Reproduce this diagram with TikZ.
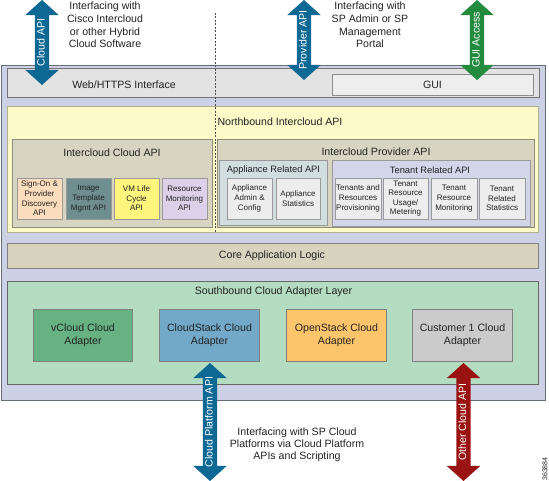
\documentclass[tikz,border=0pt]{standalone}
\usepackage{fontspec}
\setmainfont{Liberation Sans}
\usetikzlibrary{shapes.arrows}
\definecolor{outerfill}{HTML}{CCD1E5}
\definecolor{outerline}{HTML}{666D75}
\definecolor{webfill}{HTML}{E3E3E3}
\definecolor{guifill}{HTML}{EEEEEE}
\definecolor{yelfill}{HTML}{FCFAC8}
\definecolor{yelline}{HTML}{B4B28E}
\definecolor{icfill}{HTML}{D7D5C1}
\definecolor{icline}{HTML}{8E8D7C}
\definecolor{applfill}{HTML}{D2DDE0}
\definecolor{tenfill}{HTML}{D3D6E8}
\definecolor{smallfill}{HTML}{EDEDED}
\definecolor{signfill}{HTML}{FBDCBC}
\definecolor{imgfill}{HTML}{6F8E90}
\definecolor{vmfill}{HTML}{FDF57C}
\definecolor{resfill}{HTML}{DCD1E8}
\definecolor{corefill}{HTML}{D7D3BF}
\definecolor{southfill}{HTML}{B3DCC0}
\definecolor{vcfill}{HTML}{67B283}
\definecolor{csfill}{HTML}{72A9C8}
\definecolor{osfill}{HTML}{FDC56B}
\definecolor{cufill}{HTML}{CBCBCB}
\definecolor{arrblue}{HTML}{0D6894}
\definecolor{arrgreen}{HTML}{228B3E}
\definecolor{arrred}{HTML}{9B1212}
\definecolor{txtc}{HTML}{222222}
\begin{document}
\begin{tikzpicture}[x=1pt,y=-1pt,
  box/.style={rectangle, inner sep=0pt, outer sep=0pt, line width=0.8pt},
  txt/.style={text=txtc, font=\fontsize{10.6}{12.7}\selectfont, align=center, inner sep=0pt},
  mid/.style={text=txtc, font=\fontsize{9.3}{11}\selectfont, align=center, inner sep=0pt},
  sml/.style={text=txtc, font=\fontsize{8}{9.6}\selectfont, align=center, inner sep=0pt},
  smallbox/.style={box, draw=black!40, minimum width=45pt, minimum height=41pt},
  adapter/.style={box, draw=black!50, minimum width=99.5pt, minimum height=52pt, text=txtc, font=\fontsize{10.6}{13}\selectfont, align=center},
  arr/.style={double arrow, double arrow head extend=9.5pt, double arrow tip angle=96,
    inner xsep=0pt, inner ysep=2.1pt, text height=7.6pt, text depth=2.2pt,
    text=white, font=\fontsize{10.6}{12}\selectfont, rotate=90, outer sep=0pt}
]
\useasboundingbox (0,0) rectangle (549,481);

% outer container
\node[box, draw=outerline, fill=outerfill, minimum width=544pt, minimum height=335pt] (outer) at (273,232.5) {};
% web/https
\node[box, draw=black!55, fill=webfill, minimum width=532pt, minimum height=29pt] (web) at (273,82.5) {};
\node[txt] (webt) at (124,85) {Web/HTTPS Interface};
\node[box, draw=black!45, fill=guifill, minimum width=201pt, minimum height=21pt] (gui) at (432.5,84.5) {};
\node[txt] (guit) at (432.5,85) {GUI};

% northbound
\node[box, draw=yelline, fill=yelfill, minimum width=531pt, minimum height=126pt] (north) at (272.5,169) {};
\node[txt] (northt) at (280,122) {Northbound Intercloud API};

% intercloud cloud api
\node[box, draw=icline, fill=icfill, minimum width=200pt, minimum height=88pt] (icc) at (112,183) {};
\node[txt] (icct) at (112,153) {Intercloud Cloud API};
\node[smallbox, fill=signfill] (signon) at (39.5,198.5) {};
\node[sml] at (signon) {Sign-On \&\\Provider\\Discovery\\API};
\node[smallbox, fill=imgfill] (imgt) at (88.5,198.5) {};
\node[sml] at (imgt) {Image\\Template\\Mgmt API};
\node[smallbox, fill=vmfill] (vmlc) at (136.5,198.5) {};
\node[sml] at (vmlc) {VM Life\\Cycle\\API};
\node[smallbox, fill=resfill] (resmon) at (184.5,198.5) {};
\node[sml] at (resmon) {Resource\\Monitoring\\API};

% intercloud provider api
\node[box, draw=icline, fill=icfill, minimum width=317pt, minimum height=88pt] (icp) at (375.5,183) {};
\node[txt] (icpt) at (376,151.5) {Intercloud Provider API};
\node[box, draw=black!40, fill=applfill, minimum width=108pt, minimum height=65pt] (appl) at (273,192.5) {};
\node[mid] (applt) at (273.5,170) {Appliance Related API};
\node[smallbox, fill=smallfill] (appadm) at (249.5,198.5) {};
\node[sml] at (appadm) {Appliance\\Admin \&\\Config};
\node[smallbox, fill=smallfill, minimum width=44pt] (appstat) at (298,198.5) {};
\node[sml] at (appstat) {Appliance\\Statistics};
\node[box, draw=black!40, fill=tenfill, minimum width=198pt, minimum height=66pt] (tenant) at (431,193) {};
\node[mid] (tenantt) at (430,170) {Tenant Related API};
\node[smallbox, fill=smallfill, minimum width=46pt] (tprov) at (358,198.5) {};
\node[sml] at (tprov) {Tenants and\\Resources\\Provisioning};
\node[smallbox, fill=smallfill] (tusage) at (405.5,198.5) {};
\node[sml] at (tusage) {Tenant\\Resource\\Usage/\\Metering};
\node[smallbox, fill=smallfill, minimum width=46pt] (tmon) at (454,198.5) {};
\node[sml] at (tmon) {Tenant\\Resource\\Monitoring};
\node[smallbox, fill=smallfill, minimum width=46pt] (tstat) at (502,198.5) {};
\node[sml] at (tstat) {Tenant\\Related\\Statistics};

% core
\node[box, draw=black!50, fill=corefill, minimum width=531pt, minimum height=25pt] (core) at (272.5,255.5) {};
\node[txt] (coret) at (272,256) {Core Application Logic};

% southbound
\node[box, draw=black!60, fill=southfill, minimum width=531pt, minimum height=103pt] (south) at (272.5,332.5) {};
\node[txt] (southt) at (273.5,292) {Southbound Cloud Adapter Layer};
\node[adapter, fill=vcfill] (vcloud) at (83,335) {vCloud Cloud\\Adapter};
\node[adapter, fill=csfill] (cstack) at (209.5,335) {CloudStack Cloud\\Adapter};
\node[adapter, fill=osfill] (ostack) at (336.5,335) {OpenStack Cloud\\Adapter};
\node[adapter, fill=cufill] (cust) at (462.5,335) {Customer 1 Cloud\\Adapter};

% dashed divider
\coordinate (dtop) at (215,13);
\coordinate (dbot) at (215,232);
\draw[black!70, line width=0.7pt, dash pattern=on 2pt off 1.5pt] (dtop) -- (dbot);

% labels
\node[txt] (lbl1) at (105,25) {Interfacing with\\Cisco Intercloud\\or other Hybrid\\Cloud Software};
\node[txt] (lbl2) at (370,25) {Interfacing with\\SP Admin or SP\\Management\\Portal};
\node[txt, font=\fontsize{10.6}{12}\selectfont] (lbl3) at (297,445) {Interfacing with SP Cloud\\Platforms via Cloud Platform\\APIs and Scripting};
\node[text=txtc, font=\fontsize{7}{8}\selectfont, rotate=90, inner sep=0pt] (fig) at (545,469) {363884};

% arrows
\node[arr, fill=arrblue, minimum height=85pt] (a1) at (42,42.5) {Cloud API};
\node[arr, fill=arrblue, minimum height=80pt] (a2) at (304,40) {Provider API};
\node[arr, fill=arrgreen, minimum height=80pt] (a3) at (477,40) {GUI Access};
\node[arr, fill=arrblue, minimum height=118pt] (a4) at (210,422) {Cloud Platform API};
\node[arr, fill=arrred, minimum height=118pt] (a5) at (463.5,422) {Other Cloud API};
\end{tikzpicture}
\end{document}
